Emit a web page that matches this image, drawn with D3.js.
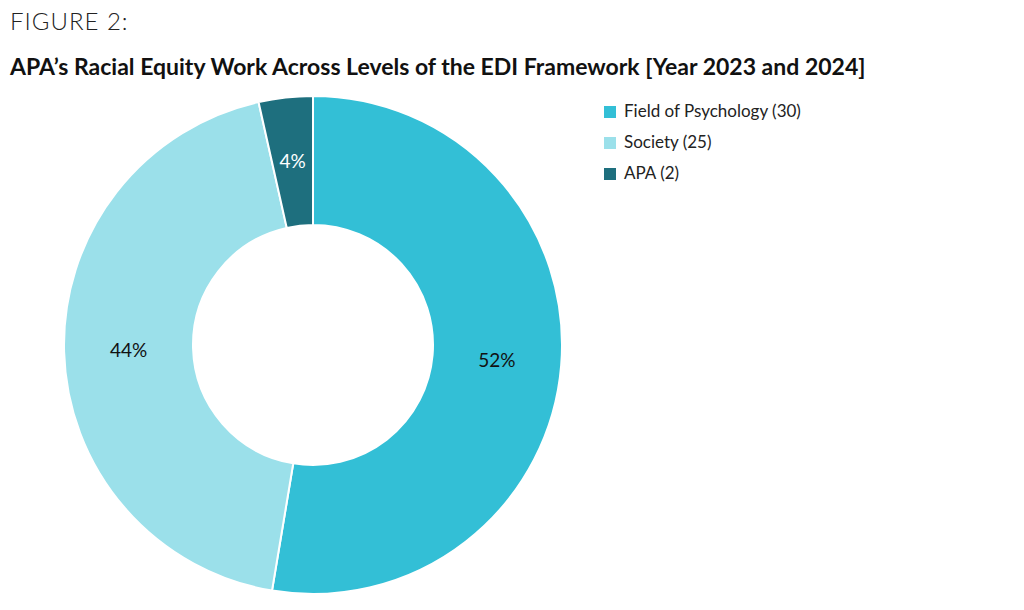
<!DOCTYPE html>
<html><head><meta charset="utf-8">
<script src="https://cdn.jsdelivr.net/npm/d3@7"></script>
<style>body{margin:0;background:#fff;font-family:Lato,"Open Sans",sans-serif;}</style>
</head><body>
<svg id="c" width="1024" height="610"></svg>
<script>
const categories = ["Field of Psychology", "Society", "APA"];
const counts = [30, 25, 2];
const percentLabels = ["52%", "44%", "4%"];
const colors = ["#33bfd6", "#9be0ea", "#1e6f7e"];
const labelColors = ["#111", "#111", "#fff"];

const svg = d3.select("#c");
svg.append("text").attr("x", 10).attr("y", 30).attr("font-size", 24).attr("font-weight", 300)
  .attr("letter-spacing", 1).attr("fill", "#222").text("FIGURE 2:");
svg.append("text").attr("x", 10).attr("y", 75).attr("font-size", 23).attr("font-weight", 700)
  .attr("fill", "#111").text("APA’s Racial Equity Work Across Levels of the EDI Framework [Year 2023 and 2024]");

const cx = 313, cy = 345, R = 249, r = 120;
const pie = d3.pie().sort(null).value(d => d)(counts);
const arc = d3.arc().innerRadius(r).outerRadius(R);
const g = svg.append("g").attr("transform", `translate(${cx},${cy})`);
g.selectAll("path").data(pie).join("path").attr("d", arc)
  .attr("fill", (d, i) => colors[i]).attr("stroke", "#fff").attr("stroke-width", 2);
g.selectAll("text").data(pie).join("text")
  .attr("transform", d => `translate(${arc.centroid(d)})`)
  .attr("text-anchor", "middle").attr("dy", "0.35em").attr("font-size", 19)
  .attr("fill", (d, i) => labelColors[i]).text((d, i) => percentLabels[i]);

const lg = svg.append("g").attr("transform", "translate(604,106)");
categories.forEach((c, i) => {
  const row = lg.append("g").attr("transform", `translate(0,${i * 31})`);
  row.append("rect").attr("width", 12).attr("height", 12).attr("fill", colors[i]);
  row.append("text").attr("x", 20).attr("y", 11).attr("font-size", 17).attr("fill", "#222")
    .text(`${c} (${counts[i]})`);
});
</script>
</body></html>
